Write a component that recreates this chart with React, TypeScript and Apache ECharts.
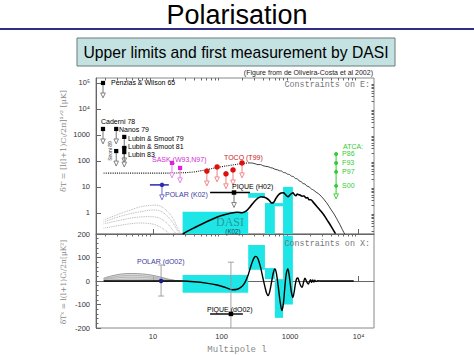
import React, { useEffect, useRef } from "react";
import * as echarts from "echarts";

// ---------------- data ----------------
// Upper limits (E constraints), black squares
const upperLimitL = [1.86, 1.86, 2.9, 3.8, 3.8, 3.8, 2.9];
const upperLimitDT = [100000, 1700, 1700, 840, 316, 220, 240];
const upperLimitNames = ["Penzias & Wilson 65", "Caderni 78", "Nanos 79", "Lubin & Smoot 79", "Lubin & Smoot 81", "Lubin 83", "Sironi 89"];

const saskL = [18.9, 24.8];
const saskDT = [84, 54];

const tocoL = [61, 86, 116, 147, 199];
const tocoDT = [41, 59, 32, 45, 84];

const polarK02L = [13.5];
const polarK02DT = [12];
const polarK02Range = [9, 17];

const piqueH02L = [152];
const piqueH02DT = [6.1];
const piqueH02Range = [68, 260];

const atcaL = 4700;
const atcaDT = [186, 84, 38, 11];
const atcaNames = ["P86", "F93", "P97", "S00"];

// DASI band powers
const dasiLmin = [27, 245, 430, 600, 790];
const dasiLmax = [245, 430, 600, 790, 1100];
const dasiELo = [0, 3.8, 0, 1.8, 0];
const dasiEHi = [1.1, 5.9, 2.4, 2.4, 10];
const dasiXLo = [-50, 48, 8, -157, -100];
const dasiXHi = [26, 153, 55, 8, 193];

// Theory curves (upper panel)
const envDotL = [1.9, 3, 5, 8, 12, 18, 25, 32, 40, 50, 62, 78, 100, 125, 155, 200, 250];
const envDotDT = [34, 34, 34, 34, 34, 34, 35, 36, 38, 42, 47, 53, 60, 66, 72, 80, 84];
const envSolidL = [250, 280, 310, 340, 370, 400, 440, 480, 520, 560, 600, 650, 700, 750, 800, 860, 920, 980, 1050, 1120, 1200, 1280, 1360, 1450, 1550, 1650, 1750, 1900, 2050, 2200, 2400, 2600, 2850, 3100, 3400, 3700, 4000, 4400, 4800, 5300, 5800, 6300];
const envSolidDT = [84, 83, 78, 72, 73, 66, 62, 60, 55, 53, 48, 46, 42, 41, 36, 35, 31, 30, 26, 25, 21, 20.5, 17, 16, 13.5, 13, 11, 10, 8.3, 7.6, 6.3, 5.5, 4.4, 3.4, 2.5, 1.8, 1.3, 0.9, 0.6, 0.37, 0.23, 0.15];
const eL = [27, 32, 40, 50, 65, 85, 110, 140, 170, 200, 230, 260, 300, 340, 380, 420, 460, 500, 540, 580, 620, 680, 740, 800, 860, 930, 1000, 1100, 1160, 1220, 1280, 1340, 1400, 1500, 1600, 1700, 1800, 1900, 2000, 2200, 2500, 2800, 3100, 3500, 4000, 4600];
const eDT = [0.155, 0.2, 0.27, 0.36, 0.5, 0.68, 0.85, 1.0, 1.07, 1.02, 1.2, 1.7, 2.7, 3.7, 4.2, 4.0, 3.6, 3.0, 2.4, 2.6, 3.6, 5.0, 5.8, 6.0, 5.0, 4.2, 5.0, 6.0, 5.0, 4.6, 5.3, 5.0, 4.9, 4.4, 4.5, 3.8, 3.9, 3.2, 3.2, 2.5, 1.7, 1.2, 0.85, 0.52, 0.3, 0.16];
const reionL = [1.9, 3, 4.5, 6.4, 9, 10.7, 13, 16, 18, 20, 23, 26];
const reionA = [0.54, 0.85, 1.25, 1.7, 1.95, 2.0, 1.8, 1.2, 0.84, 0.55, 0.25, 0.15];
const reionB = [0.45, 0.68, 0.92, 1.1, 1.28, 1.3, 1.15, 0.78, 0.55, 0.38, 0.2, 0.14];
const reionC = [0.38, 0.5, 0.62, 0.7, 0.72, 0.7, 0.6, 0.4, 0.28, 0.2, 0.14, 0.12];
const reionD = [0.26, 0.32, 0.38, 0.41, 0.39, 0.35, 0.28, 0.19, 0.15, 0.13, 0.12, 0.11];

// Lower panel (X = TE)
const xL = [1.9, 5, 10, 20, 27, 40, 60, 86, 115, 142, 170, 200, 220, 243, 260, 280, 300, 318, 340, 370, 400, 430, 455, 480, 505, 540, 570, 600, 630, 670, 710, 760, 800, 840, 880, 930, 970, 1010, 1050, 1100, 1150, 1200, 1250, 1300, 1350, 1420, 1500, 1560, 1610, 1650, 1700, 1760, 1850, 1920, 1990, 2060, 2140, 2220, 2300, 2400, 2550, 2800, 4000, 6000, 8500];
const xDT = [0, 0, 0, 0, 0, -3, -9, -17, -28, -37, -35, -22, -6, 23, 51, 80, 100, 105, 95, 60, 15, -25, -52, -62, -45, 0, 35, 51, 35, -20, -80, -126, -95, -25, 30, 51, 25, -15, -50, -70, -45, -10, 10, 13, 0, -18, -27, -10, 5, 12, 5, -5, -13, -3, 6, -6, 4, -4, 3, -2, 1, 0, 0, 0, 0];
const humpL = [1.9, 2.5, 3.5, 5, 7, 10, 14, 18, 22, 26];
const hump1 = [12, 22, 30, 32, 30, 24, 14, 6, 1.5, 0];
const hump2 = [9, 16, 22, 24, 22, 17, 10, 4, 1, 0];
const hump3 = [6, 11, 15, 16, 15, 11, 6, 2.5, 0.5, 0];
const hump4 = [3, 5, 7, 8, 7, 5, 3, 1, 0, 0];

const polarDO02L = [13.1];
const polarDO02DT = [0];
const polarDO02Err = [-64, 68];
const piqueDO02L = [137];
const piqueDO02DT = [-140];
const piqueDO02Range = [68, 205];
const piqueDO02Err = [-360, 80];

// axis ticks
const majorL = [10, 100, 1000, 10000];
const minorL = [2, 3, 4, 5, 6, 7, 8, 9, 20, 30, 40, 50, 60, 70, 80, 90, 200, 300, 400, 500, 600, 700, 800, 900, 2000, 3000, 4000, 5000, 6000, 7000, 8000, 9000];
const majorDT = [1, 10, 100, 1000, 10000, 100000];
const minorDT = [0.2, 0.3, 0.4, 0.5, 0.6, 0.7, 0.8, 0.9, 2, 3, 4, 5, 6, 7, 8, 9, 20, 30, 40, 50, 60, 70, 80, 90, 200, 300, 400, 500, 600, 700, 800, 900, 2000, 3000, 4000, 5000, 6000, 7000, 8000, 9000, 20000, 30000, 40000, 50000, 60000, 70000, 80000, 90000];

// ---------------- helpers ----------------
const CYAN = "#1fe6e6";
const SANS = "Liberation Sans";
const zip = (a: number[], b: number[]) => a.map((v, i) => [v, b[i]]);
const SUP: Record<number, string> = { 4: "⁴", 5: "⁵" };
const fmtLog = (v: number) => {
  const e = Math.round(Math.log10(v));
  return e >= 4 ? "10" + SUP[e] : String(Math.round(Math.pow(10, e)));
};

function arrow(x: number, y: number, len: number, color: string) {
  return [
    { type: "line", shape: { x1: x, y1: y, x2: x, y2: y + len - 1 }, style: { stroke: color, lineWidth: 1 } },
    {
      type: "polygon",
      shape: { points: [[x - 2.3, y + len - 5], [x + 2.3, y + len - 5], [x, y + len]] },
      style: { stroke: color, fill: "#fff", lineWidth: 0.9 },
    },
  ];
}

function markerEl(kind: string, x: number, y: number, color: string, size: number) {
  if (kind === "circle") return { type: "circle", shape: { cx: x, cy: y, r: size / 2 }, style: { fill: color } };
  return { type: "rect", shape: { x: x - size / 2, y: y - size / 2, width: size, height: size }, style: { fill: color } };
}

function limitRenderer(kind: string, color: string, arrowColor: string, size: number, len: number) {
  return (params: any, api: any) => {
    const p = api.coord([api.value(0), api.value(1)]);
    return {
      type: "group",
      children: [...arrow(p[0], p[1] + 2, len, arrowColor), markerEl(kind, p[0], p[1], color, size)],
    };
  };
}

function hbarRenderer(kind: string, color: string, arrowColor: string | null, size: number) {
  return (params: any, api: any) => {
    const p = api.coord([api.value(0), api.value(1)]);
    const a = api.coord([api.value(2), api.value(1)]);
    const b = api.coord([api.value(3), api.value(1)]);
    const children: any[] = [
      { type: "line", shape: { x1: a[0], y1: p[1], x2: b[0], y2: p[1] }, style: { stroke: color, lineWidth: 1.5 } },
    ];
    if (arrowColor) children.push(...arrow(p[0], p[1] + 2, 13, arrowColor));
    children.push(markerEl(kind, p[0], p[1], color, size));
    return { type: "group", children };
  };
}

function vbarRenderer(kind: string, color: string, size: number, withH: boolean) {
  return (params: any, api: any) => {
    const cs = params.coordSys;
    const p = api.coord([api.value(0), api.value(1)]);
    const lo = api.coord([api.value(0), api.value(2)]);
    const hi = api.coord([api.value(0), api.value(3)]);
    const yLo = Math.min(lo[1], cs.y + cs.height);
    const children: any[] = [
      { type: "line", shape: { x1: p[0], y1: hi[1], x2: p[0], y2: yLo }, style: { stroke: "#999", lineWidth: 0.9 } },
      { type: "line", shape: { x1: p[0] - 3, y1: hi[1], x2: p[0] + 3, y2: hi[1] }, style: { stroke: "#999", lineWidth: 0.9 } },
    ];
    if (lo[1] <= cs.y + cs.height)
      children.push({ type: "line", shape: { x1: p[0] - 3, y1: lo[1], x2: p[0] + 3, y2: lo[1] }, style: { stroke: "#999", lineWidth: 0.9 } });
    if (withH) {
      const a = api.coord([api.value(4), api.value(1)]);
      const b = api.coord([api.value(5), api.value(1)]);
      children.push({ type: "line", shape: { x1: a[0], y1: p[1], x2: b[0], y2: p[1] }, style: { stroke: "#111", lineWidth: 1.5 } });
    }
    children.push(markerEl(kind, p[0], p[1], color, size));
    return { type: "group", children };
  };
}

function boxRenderer(isLog: boolean) {
  return (params: any, api: any) => {
    const cs = params.coordSys;
    const l0 = api.value(0), l1 = api.value(1), lo = api.value(2), hi = api.value(3);
    const pHi = api.coord([l0, hi]);
    const pR = api.coord([l1, hi]);
    const yLo = isLog && lo <= 0 ? cs.y + cs.height : Math.min(api.coord([l0, lo])[1], cs.y + cs.height);
    const yHi = Math.max(pHi[1], cs.y);
    return {
      type: "rect",
      shape: { x: pHi[0], y: yHi, width: pR[0] - pHi[0], height: yLo - yHi },
      style: { fill: CYAN },
    };
  };
}

function txt(text: string, x: number, y: number, o: any = {}) {
  return {
    type: "text",
    x,
    y,
    rotation: o.rotation || 0,
    z: 100,
    style: {
      text,
      fill: o.color || "#000",
      fontSize: o.size || 7,
      fontFamily: o.font || SANS,
      align: o.align || "left",
      verticalAlign: "middle",
    },
  };
}

const lineSeries = (x: number, data: number[][], style: any, extra: any = {}) => ({
  type: "line",
  xAxisIndex: x,
  yAxisIndex: x,
  data,
  showSymbol: false,
  symbol: "none",
  smooth: 0.35,
  silent: true,
  lineStyle: style,
  z: 3,
  ...extra,
});

// ---------------- option ----------------
const axisColor = "#666";
const option: any = {
  animation: false,
  textStyle: { fontFamily: SANS },
  grid: [
    { left: 96, top: 78, width: 278, height: 156, show: true, borderColor: "#888", borderWidth: 1 },
    { left: 96, top: 234, width: 278, height: 94, show: true, borderColor: "#888", borderWidth: 1 },
  ],
  xAxis: [
    {
      gridIndex: 0, type: "log", min: 1.47, max: 16800,
      axisLine: { lineStyle: { color: axisColor } },
      axisTick: { inside: true, length: 5, customValues: majorL, lineStyle: { color: axisColor } },
      axisLabel: { show: false }, splitLine: { show: false },
    },
    {
      gridIndex: 1, type: "log", min: 1.47, max: 16800,
      axisLine: { lineStyle: { color: axisColor } },
      axisTick: { inside: true, length: 5, customValues: majorL, lineStyle: { color: axisColor } },
      axisLabel: { customValues: majorL, formatter: fmtLog, fontSize: 7.5, color: "#333", margin: 4 },
      splitLine: { show: false },
    },
    {
      gridIndex: 0, type: "log", min: 1.47, max: 16800,
      axisLine: { show: false },
      axisTick: { inside: true, length: 2.5, customValues: minorL, lineStyle: { color: axisColor } },
      axisLabel: { show: false }, splitLine: { show: false },
    },
    {
      gridIndex: 1, type: "log", min: 1.47, max: 16800,
      axisLine: { show: false },
      axisTick: { inside: true, length: 2.5, customValues: minorL, lineStyle: { color: axisColor } },
      axisLabel: { show: false }, splitLine: { show: false },
    },
  ],
  yAxis: [
    {
      gridIndex: 0, type: "log", min: 0.155, max: 155000,
      axisLine: { lineStyle: { color: axisColor } },
      axisTick: { inside: true, length: 5, customValues: majorDT, lineStyle: { color: axisColor } },
      axisLabel: { customValues: majorDT, formatter: fmtLog, fontSize: 7.5, color: "#333", margin: 6 },
      splitLine: { show: false },
    },
    {
      gridIndex: 1, type: "value", min: -200, max: 200, interval: 100,
      axisLine: { lineStyle: { color: axisColor } },
      axisTick: { inside: true, length: 5, lineStyle: { color: axisColor } },
      minorTick: { show: true, splitNumber: 5, length: 2.5, lineStyle: { color: axisColor } },
      axisLabel: { fontSize: 7.5, color: "#333", margin: 6 },
      splitLine: { show: false },
    },
    {
      gridIndex: 0, type: "log", min: 0.155, max: 155000,
      axisLine: { show: false },
      axisTick: { inside: true, length: 2.5, customValues: minorDT, lineStyle: { color: axisColor } },
      axisLabel: { show: false }, splitLine: { show: false },
    },
  ],
  series: [
    // DASI boxes
    {
      type: "custom", xAxisIndex: 0, yAxisIndex: 0, z: 1, silent: true,
      data: dasiLmin.map((l, i) => [l, dasiLmax[i], dasiELo[i], dasiEHi[i]]),
      encode: { x: [0, 1], y: [3] },
      renderItem: boxRenderer(true),
    },
    {
      type: "custom", xAxisIndex: 1, yAxisIndex: 1, z: 1, silent: true,
      data: dasiLmin.map((l, i) => [l, dasiLmax[i], dasiXLo[i], dasiXHi[i]]),
      encode: { x: [0, 1], y: [2, 3] },
      renderItem: boxRenderer(false),
    },
    // reionization gray dotted curves (upper)
    lineSeries(0, zip(reionL, reionA), { type: "dotted", color: "#aaa", width: 0.9 }),
    lineSeries(0, zip(reionL, reionB), { type: "dotted", color: "#aaa", width: 0.9 }),
    lineSeries(0, zip(reionL, reionC), { type: "dotted", color: "#aaa", width: 0.9 }),
    lineSeries(0, zip(reionL, reionD), { type: "dotted", color: "#aaa", width: 0.9 }),
    // envelope
    lineSeries(0, zip(envDotL, envDotDT), { type: "dotted", color: "#222", width: 1.1 }),
    lineSeries(0, zip(envSolidL, envSolidDT), { color: "#111", width: 0.8 }),
    // E theory
    lineSeries(0, zip(eL, eDT), { color: "#000", width: 1.6 }),
    // lower hump
    lineSeries(1, zip(humpL, hump1), { color: "#888", width: 0.8 }, { areaStyle: { color: "#cfcfcf" }, z: 2 }),
    lineSeries(1, zip(humpL, hump2), { color: "#999", width: 0.6 }),
    lineSeries(1, zip(humpL, hump3), { color: "#999", width: 0.6 }),
    lineSeries(1, zip(humpL, hump4), { color: "#999", width: 0.6 }),
    // X theory
    lineSeries(1, zip(xL, xDT), { color: "#000", width: 1.4 }, { smooth: 0.3 }),
    // upper limits
    {
      type: "custom", xAxisIndex: 0, yAxisIndex: 0, z: 5, silent: true,
      data: zip(upperLimitL, upperLimitDT).map((d, i) => ({ name: upperLimitNames[i], value: d })),
      renderItem: limitRenderer("square", "#000", "#777", 4.2, 13),
    },
    {
      type: "custom", xAxisIndex: 0, yAxisIndex: 0, z: 5, silent: true,
      data: zip(saskL, saskDT),
      renderItem: limitRenderer("square", "#e020e0", "#e080e0", 4.2, 13),
    },
    {
      type: "custom", xAxisIndex: 0, yAxisIndex: 0, z: 5, silent: true,
      data: zip(tocoL, tocoDT),
      renderItem: limitRenderer("circle", "#dd1010", "#ee8080", 5.5, 13),
    },
    {
      type: "custom", xAxisIndex: 0, yAxisIndex: 0, z: 5, silent: true,
      data: polarK02L.map((l, i) => [l, polarK02DT[i], polarK02Range[0], polarK02Range[1]]),
      renderItem: hbarRenderer("circle", "#2a2ab0", "#6a6ad0", 4.5),
    },
    {
      type: "custom", xAxisIndex: 0, yAxisIndex: 0, z: 5, silent: true,
      data: piqueH02L.map((l, i) => [l, piqueH02DT[i], piqueH02Range[0], piqueH02Range[1]]),
      renderItem: hbarRenderer("square", "#000", "#777", 4.5),
    },
    // ATCA
    {
      type: "line", xAxisIndex: 0, yAxisIndex: 0, z: 5, silent: true,
      data: atcaDT.map((v) => [atcaL, v]),
      symbol: "circle", symbolSize: 4,
      itemStyle: { color: "#33cc33" },
      lineStyle: { color: "#33cc33", width: 1 },
      label: {
        show: true, position: "right", distance: 4, color: "#33cc33", fontSize: 7,
        formatter: (p: any) => atcaNames[p.dataIndex],
      },
    },
    {
      type: "custom", xAxisIndex: 0, yAxisIndex: 0, z: 5, silent: true,
      data: [[atcaL, atcaDT[atcaDT.length - 1]]],
      renderItem: (params: any, api: any) => {
        const p = api.coord([api.value(0), api.value(1)]);
        return { type: "group", children: arrow(p[0], p[1], 13, "#33cc33") };
      },
    },
    // lower panel data
    {
      type: "custom", xAxisIndex: 1, yAxisIndex: 1, z: 5, silent: true,
      data: polarDO02L.map((l, i) => [l, polarDO02DT[i], polarDO02Err[0], polarDO02Err[1]]),
      renderItem: vbarRenderer("circle", "#1a1a90", 4.5, false),
    },
    {
      type: "custom", xAxisIndex: 1, yAxisIndex: 1, z: 5, silent: true,
      data: piqueDO02L.map((l, i) => [l, piqueDO02DT[i], piqueDO02Err[0], piqueDO02Err[1], piqueDO02Range[0], piqueDO02Range[1]]),
      renderItem: vbarRenderer("square", "#000", 4.5, true),
    },
  ],
  graphic: [
    txt("Polarisation", 237, 15, { size: 27, align: "center" }),
    { type: "line", shape: { x1: 0, y1: 29, x2: 474, y2: 29 }, style: { stroke: "#2e2e86", lineWidth: 2 } },
    { type: "rect", shape: { x: 77, y: 38, width: 318, height: 28 }, style: { fill: "#c4e2e2", stroke: "#6a7a7a", lineWidth: 1 } },
    txt("Upper limits and first measurement by DASI", 236, 52.5, { size: 15.7, align: "center" }),
    txt("(Figure from de Oliveira-Costa et al 2002)", 373, 72, { size: 7, align: "right", color: "#222" }),
    txt("Constraints on E:", 370, 85, { size: 8.4, align: "right", color: "#777", font: "Liberation Mono" }),
    txt("Constraints on X:", 370, 244, { size: 8.4, align: "right", color: "#777", font: "Liberation Mono" }),
    txt(upperLimitNames[0], 111, 82),
    txt(upperLimitNames[1], 101, 121.5),
    txt(upperLimitNames[2], 119, 129.7),
    txt(upperLimitNames[3], 128, 138),
    txt(upperLimitNames[4], 128, 146),
    txt(upperLimitNames[5], 128, 154),
    txt(upperLimitNames[6], 110, 151, { size: 5, align: "center", rotation: Math.PI / 2, color: "#333" }),
    txt("SASK (W93,N97)", 152, 159, { color: "#d030d0" }),
    txt("TOCO (T99)", 224, 157, { color: "#cc2020" }),
    txt("POLAR (K02)", 165, 194, { color: "#3a3aa0" }),
    txt("PIQUE (H02)", 232, 186),
    txt("ATCA:", 343, 146, { color: "#33cc33" }),
    txt("DASI", 230, 222, { size: 12, align: "center", color: "#2a9a9a", font: "Liberation Serif" }),
    txt("(K02)", 233, 231.3, { size: 6.3, align: "center", color: "#1d4a5a" }),
    txt("POLAR (dO02)", 137, 261, { color: "#3a3aa0" }),
    txt("PIQUE (dO02)", 207, 309),
    txt("Multipole l", 237, 350, { size: 9, align: "center", color: "#888", font: "Liberation Mono" }),
    txt("δT = [l(l+1)Cₗ/2π]¹ᐟ² [μK]", 63, 141, { size: 8, align: "center", rotation: Math.PI / 2, color: "#888", font: "DejaVu Serif" }),
    txt("δTˣ = l(l+1)Cₗ/2π[μK²]", 63, 282, { size: 7.5, align: "center", rotation: Math.PI / 2, color: "#888", font: "DejaVu Serif" }),
  ],
};

export default function App() {
  const ref = useRef<HTMLDivElement>(null);
  useEffect(() => {
    const chart = echarts.init(ref.current!, null, { renderer: "svg" });
    chart.setOption(option);
    return () => chart.dispose();
  }, []);
  return (
    <div
      ref={ref}
      style={{ position: "fixed", left: 0, top: 0, width: 474, height: 355, background: "#fff" }}
    />
  );
}
